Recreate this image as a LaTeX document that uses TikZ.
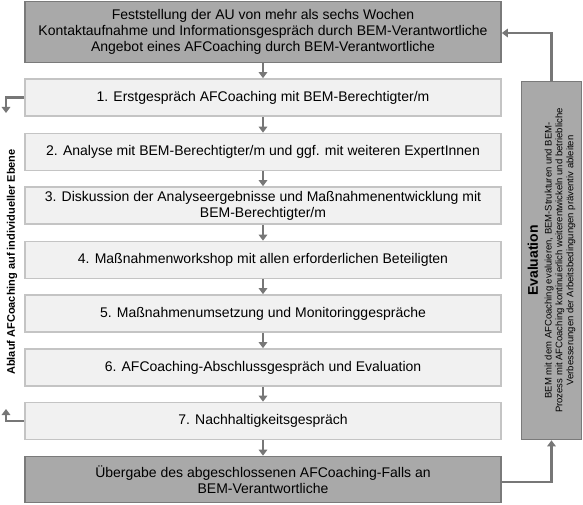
\documentclass[tikz,border=0pt]{standalone}
\usepackage{fontspec}
\setmainfont{Liberation Sans}
\usetikzlibrary{arrows.meta,positioning}
\definecolor{darkbox}{HTML}{A9A9A9}
\definecolor{darkedge}{HTML}{7A7A7A}
\definecolor{lightbox}{HTML}{F1F1F1}
\definecolor{lightedge}{HTML}{C4C4C4}
\definecolor{arrowgray}{HTML}{777777}
\begin{document}
\begin{tikzpicture}[x=1pt,y=-1pt,
  darkstep/.style={draw=darkedge,fill=darkbox,line width=1.6pt,minimum width=476pt,align=center,inner sep=0pt,font=\fontsize{14}{16}\selectfont},
  lightstep/.style={draw=lightedge,fill=lightbox,line width=1.6pt,minimum width=476pt,minimum height=37pt,align=center,inner sep=0pt,font=\fontsize{14}{16}\selectfont},
  flow/.style={draw=arrowgray,line width=2.6pt,-{Triangle[length=6pt,width=8.5pt]}}]
\useasboundingbox (0,0) rectangle (583,505);
\node[darkstep,minimum height=61pt] (top) at (263,32) {Feststellung der AU von mehr als sechs Wochen\\Kontaktaufnahme und Informationsgespräch durch BEM-Verantwortliche\\Angebot eines AFCoaching durch BEM-Verantwortliche};
\node[lightstep] (s1) at (263,97.5) {1. Erstgespräch AFCoaching mit BEM-Berechtigter/m};
\node[lightstep] (s2) at (263,152) {2. Analyse mit BEM-Berechtigter/m und ggf. mit weiteren ExpertInnen};
\node[lightstep] (s3) at (263,205.5) {3. Diskussion der Analyseergebnisse und Maßnahmenentwicklung mit\\BEM-Berechtigter/m};
\node[lightstep] (s4) at (263,260) {4. Maßnahmenworkshop mit allen erforderlichen Beteiligten};
\node[lightstep] (s5) at (263,313.5) {5. Maßnahmenumsetzung und Monitoringgespräche};
\node[lightstep] (s6) at (263,367.5) {6. AFCoaching-Abschlussgespräch und Evaluation};
\node[lightstep] (s7) at (263,421) {7. Nachhaltigkeitsgespräch};
\node[darkstep,minimum height=46pt] (bot) at (263,479.5) {Übergabe des abgeschlossenen AFCoaching-Falls an\\BEM-Verantwortliche};
\node[draw=darkedge,fill=darkbox,line width=1.6pt,minimum width=358pt,minimum height=60pt,rotate=90,inner sep=0pt,align=center,font=\fontsize{9.5}{10.8}\selectfont] (ev) at (551.5,260.5)
  {\fontsize{14}{14}\selectfont\bfseries Evaluation\\[3pt]
   \fontsize{9.5}{10.8}\selectfont\mdseries BEM mit dem AFCoaching evaluieren, BEM-Strukturen und BEM-\\Prozess mit AFCoaching kontinuierlich weiterentwickeln und betriebliche\\Verbesserungen der Arbeitsbedingungen präventiv ableiten};
\node[rotate=90,font=\fontsize{11}{13}\selectfont\bfseries,inner sep=0pt] (lbl) at (12,262) {Ablauf AFCoaching auf individueller Ebene};
\draw[flow] (top) -- (s1);
\draw[flow] (s1) -- (s2);
\draw[flow] (s2) -- (s3);
\draw[flow] (s3) -- (s4);
\draw[flow] (s4) -- (s5);
\draw[flow] (s5) -- (s6);
\draw[flow] (s6) -- (s7);
\draw[flow] (s7) -- (bot);
\coordinate (l1) at (6,113);
\coordinate (l7) at (6,409);
\draw[flow] (s1.west) -| (l1);
\draw[flow] (s7.west) -| (l7);
\draw[flow] (bot.east |- 0,482) -| (ev.west);
\draw[flow] (ev.east) |- (top.east |- 0,33);
\end{tikzpicture}
\end{document}
